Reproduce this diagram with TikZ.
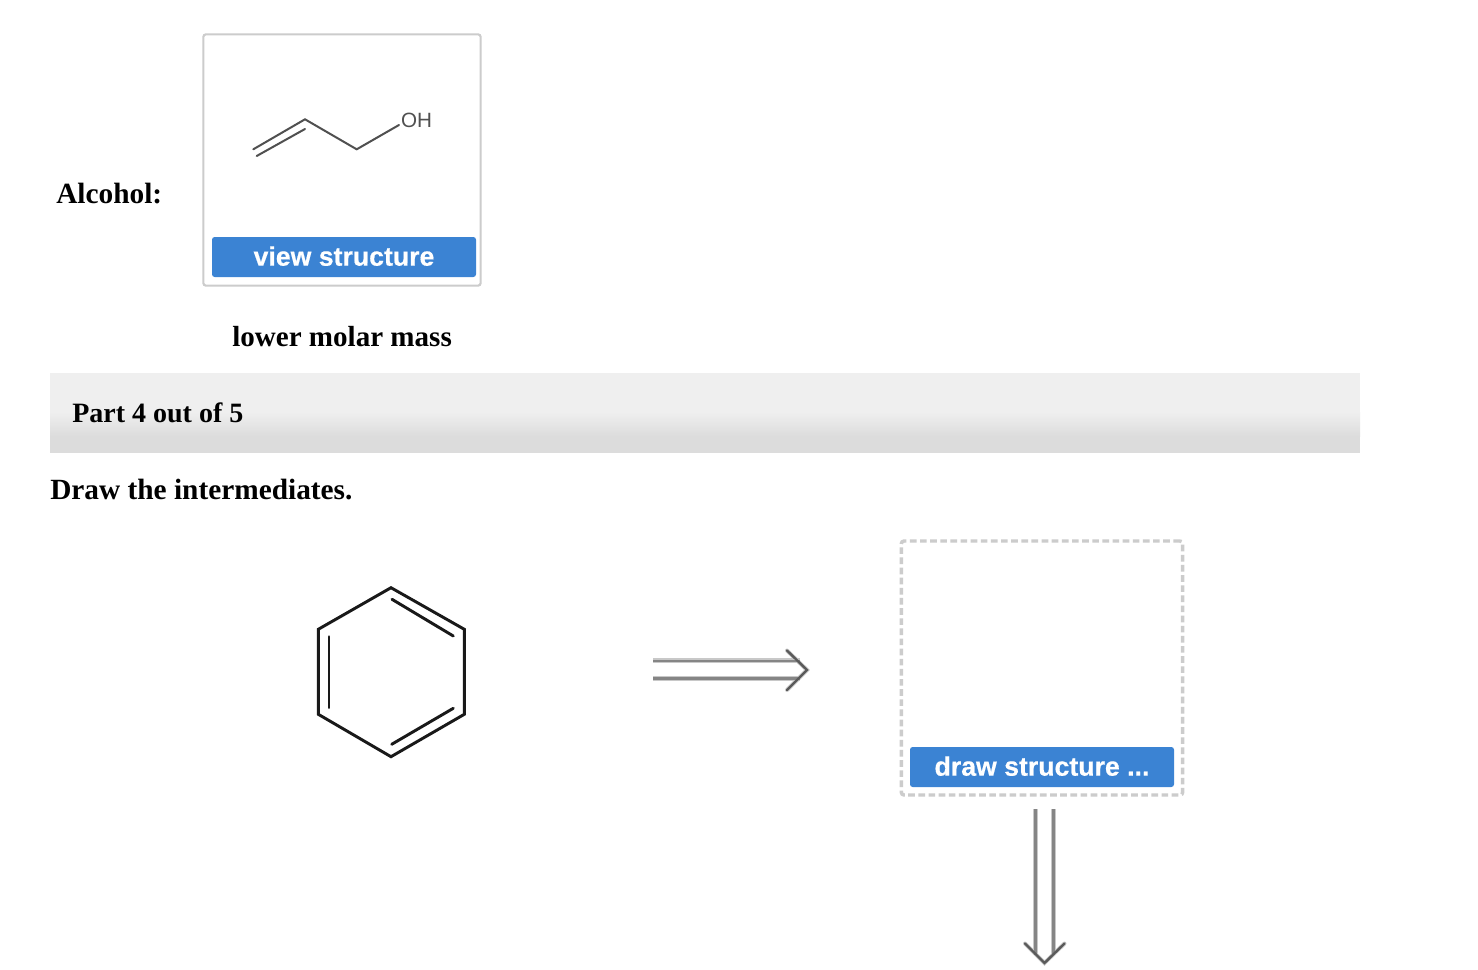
\documentclass[tikz,border=0pt]{standalone}
\usepackage{fontspec}
\setmainfont{Liberation Serif}
\newfontfamily\arialfont{Liberation Sans}
\newfontfamily\btnfont[BoldFeatures={FakeBold=0.5}]{Liberation Sans}
\definecolor{btnblue}{HTML}{3B83D3}
\definecolor{boxgray}{HTML}{CCCCCC}
\definecolor{bandtop}{HTML}{EFEFEF}
\definecolor{bandbot}{HTML}{DCDCDC}
\definecolor{arrowgray}{HTML}{858585}
\definecolor{arrowhalo}{HTML}{C8C8C8}
\definecolor{headgray}{HTML}{5A5A5A}
\definecolor{molgray}{HTML}{505050}
\tikzset{
  heading/.style={font=\fontsize{22pt}{26pt}\selectfont\bfseries,text=black,anchor=base west,inner sep=0pt},
  lowerhead/.style={font=\fontsize{21.8pt}{26pt}\selectfont\bfseries,text=black,anchor=base west,inner sep=0pt},
  parthead/.style={font=\fontsize{21pt}{26pt}\selectfont\bfseries,text=black,anchor=base west,inner sep=0pt},
  btn/.style={fill=btnblue,rounded corners=2pt,text=white,font=\btnfont\fontsize{20pt}{24pt}\selectfont\bfseries,inner sep=0pt,minimum height=30pt,minimum width=198pt,anchor=center},
  bond/.style={draw=black!90,line width=2.2pt,line cap=round,line join=miter},
  allyl/.style={draw=molgray,line width=1.5pt,line cap=round},
  shafthalo/.style={draw=arrowhalo,line width=3.6pt},
  shaft/.style={draw=arrowgray,line width=1.8pt},
  arrowhalohead/.style={draw=arrowhalo,line width=3pt,line cap=round,line join=miter},
  arrowhead/.style={draw=headgray,line width=1.8pt,line cap=round,line join=miter}
}
\begin{document}
\begin{tikzpicture}[x=0.75pt,y=-0.75pt]
\useasboundingbox (0,0) rectangle (1478,970);
\fill[white] (0,0) rectangle (1478,970);
% labels
\node[heading] (alcohol) at (56,204) {Alcohol:};
\node[lowerhead] (lower) at (232,346) {lower molar mass};
% top box
\node[draw=boxgray,line width=1.6pt,rounded corners=2pt,minimum width=208pt,minimum height=188.5pt,inner sep=0pt] (topbox) at (342,160) {};
\node[btn] (viewbtn) at (344,257) {\raisebox{1.5pt}{view structure}};
% allyl alcohol
\coordinate (a1) at (253.3,149.3);
\coordinate (a1b) at (256.7,156);
\coordinate (a2) at (305,119.3);
\coordinate (a2b) at (305,129);
\coordinate (a3) at (356.7,149.3);
\coordinate (a4) at (399,125);
\draw[allyl] (a1) -- (a2) -- (a3) -- (a4);
\draw[allyl] (a1b) -- (a2b);
\node[text=molgray,font=\arialfont\fontsize{15.5pt}{17pt}\selectfont,inner sep=0pt] (oh) at (416.5,120) {OH};
% band
\fill[bandtop] (50,373) rectangle (1360,412);
\shade[top color=bandtop,bottom color=bandbot] (50,412) rectangle (1360,436);
\fill[bandbot] (50,436) rectangle (1360,453);
\node[parthead] (part) at (72,422) {Part 4 out of 5};
\node[heading] (draw) at (50,499) {Draw the intermediates.};
% benzene
\coordinate (b1) at (391,587.7);
\coordinate (b2) at (464.3,629.3);
\coordinate (b3) at (464.3,714.3);
\coordinate (b4) at (391,756.7);
\coordinate (b5) at (318.3,714.3);
\coordinate (b6) at (318.3,629.3);
\draw[bond] (b1) -- (b2) -- (b3) -- (b4) -- (b5) -- (b6) -- cycle;
\coordinate (c1) at (392,599.3);
\coordinate (c2) at (453.3,636);
\coordinate (c3) at (453.3,708.3);
\coordinate (c4) at (391.7,744.3);
\coordinate (c5) at (329,707.7);
\coordinate (c6) at (329,636.7);
\draw[bond] (c1) -- (c2);
\draw[bond] (c3) -- (c4);
\draw[bond] (c5) -- (c6);
% right arrow
\coordinate (r1) at (653,660.7);
\coordinate (r2) at (653,678.3);
\coordinate (r1e) at (800,660.7);
\coordinate (r2e) at (800,678.3);
\coordinate (rt) at (807,670);
\coordinate (rh1) at (787,650.5);
\coordinate (rh2) at (787,690);
\draw[shafthalo] (r1) -- (r1e);
\draw[shafthalo] (r2) -- (r2e);
\draw[arrowhalohead] (rh1) -- (rt) -- (rh2);
\draw[shaft] (r1) -- (r1e);
\draw[shaft] (r2) -- (r2e);
\draw[arrowhead] (rh1) -- (rt) -- (rh2);
% dashed box
\node[draw=boxgray,line width=2.6pt,dash pattern=on 5pt off 2.6pt,rounded corners=2pt,minimum width=211pt,minimum height=190.5pt,inner sep=0pt] (dashbox) at (1042,668) {};
\node[btn] (drawbtn) at (1042,767) {\raisebox{1.5pt}{draw structure ...}};
% down arrow
\coordinate (d1) at (1035.4,809);
\coordinate (d2) at (1053.6,809);
\coordinate (d1e) at (1035.4,955);
\coordinate (d2e) at (1053.6,955);
\coordinate (dt) at (1044.5,963);
\coordinate (dh1) at (1025,943.5);
\coordinate (dh2) at (1064.5,943.5);
\draw[shafthalo] (d1) -- (d1e);
\draw[shafthalo] (d2) -- (d2e);
\draw[arrowhalohead] (dh1) -- (dt) -- (dh2);
\draw[shaft] (d1) -- (d1e);
\draw[shaft] (d2) -- (d2e);
\draw[arrowhead] (dh1) -- (dt) -- (dh2);
\end{tikzpicture}
\end{document}
